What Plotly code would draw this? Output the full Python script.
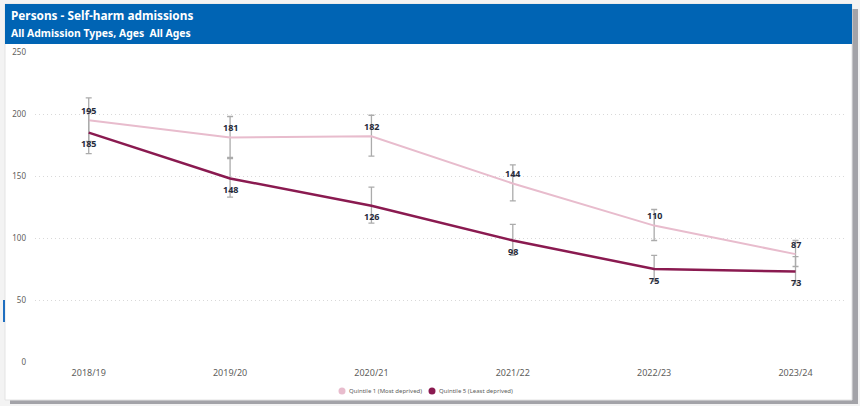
import plotly.graph_objects as go

years = ['2018/19', '2019/20', '2020/21', '2021/22', '2022/23', '2023/24']

q1_name = 'Quintile 1 (Most deprived)'
q1_values = [195, 181, 182, 144, 110, 87]
q1_upper = [213, 198, 199, 159, 123, 98]
q1_lower = [178, 164, 166, 130, 98, 77]

q5_name = 'Quintile 5 (Least deprived)'
q5_values = [185, 148, 126, 98, 75, 73]
q5_upper = [202, 165, 141, 111, 86, 85]
q5_lower = [168, 133, 112, 86, 65, 63]

y_ticks = [0, 50, 100, 150, 200, 250]

Q1_COLOUR = '#e8bccd'
Q5_COLOUR = '#8a1a50'
ERR_COLOUR = '#ababab'
LABEL_COLOUR = '#252a3a'
FONT = 'Noto Sans'

W, H = 860, 406
ML, MR, MT, MB = 35, 15, 52, 44


def px_x(p):
    return (p - ML) / (W - ML - MR)


def px_y(p):
    return (H - MB - p) / (H - MT - MB)


def err(vals, up, lo):
    return dict(type='data', symmetric=False,
                array=[u - v for u, v in zip(up, vals)],
                arrayminus=[v - l for v, l in zip(vals, lo)],
                color=ERR_COLOUR, thickness=1.3, width=3)


fig = go.Figure()
fig.add_trace(go.Scatter(
    x=years, y=q1_values, mode='lines', name=q1_name, showlegend=False,
    line=dict(color=Q1_COLOUR, width=2),
    error_y=err(q1_values, q1_upper, q1_lower),
))
fig.add_trace(go.Scatter(
    x=years, y=q5_values, mode='lines', name=q5_name, showlegend=False,
    line=dict(color=Q5_COLOUR, width=2.5),
    error_y=err(q5_values, q5_upper, q5_lower),
))

# data labels: Q1 above the point, Q5 below
annotations = []
for vals, shift in [(q1_values, 10), (q5_values, -11)]:
    for x, v in zip(years, vals):
        annotations.append(dict(x=x, y=v, text=f'<b>{v}</b>', showarrow=False,
                                yshift=shift, xanchor='center', yanchor='middle',
                                font=dict(family=FONT, size=9, color=LABEL_COLOUR)))

shapes = [
    # card shadow
    dict(type='rect', xref='paper', yref='paper', layer='below',
         x0=px_x(10), x1=px_x(858), y0=px_y(404), y1=px_y(9),
         fillcolor='#a3a3a8', line_width=0),
    # card
    dict(type='rect', xref='paper', yref='paper', layer='below',
         x0=px_x(5), x1=px_x(852), y0=px_y(400), y1=px_y(4),
         fillcolor='white', line=dict(color='#e3e3e3', width=1)),
    # header band
    dict(type='rect', xref='paper', yref='paper', layer='below',
         x0=px_x(5), x1=px_x(852), y0=px_y(44), y1=px_y(4),
         fillcolor='#0064b4', line_width=0),
    # little blue marker at left edge
    dict(type='line', xref='paper', yref='paper',
         x0=px_x(4), x1=px_x(4), y0=px_y(300), y1=px_y(322),
         line=dict(color='#1f6fc0', width=2)),
]

# compact legend at the bottom (dot + label)
for (name, colour), cx in zip([(q1_name, Q1_COLOUR), (q5_name, Q5_COLOUR)], [342, 432]):
    shapes.append(dict(type='circle', xref='paper', yref='paper',
                       x0=px_x(cx - 3.5), x1=px_x(cx + 3.5),
                       y0=px_y(391 + 3.5), y1=px_y(391 - 3.5),
                       fillcolor=colour, line_width=0))
    annotations.append(dict(text=name, xref='paper', yref='paper',
                            x=px_x(cx + 5), y=px_y(391), xanchor='left', yanchor='middle',
                            showarrow=False, font=dict(family=FONT, size=6, color='#605e5c')))

annotations += [
    dict(text='<b>Persons - Self-harm admissions</b>', xref='paper', yref='paper',
         x=px_x(9), y=px_y(15), xanchor='left', yanchor='middle', showarrow=False,
         font=dict(family=FONT, size=11.8, color='white')),
    dict(text='<b>All Admission Types, Ages  All Ages</b>', xref='paper', yref='paper',
         x=px_x(9), y=px_y(33), xanchor='left', yanchor='middle', showarrow=False,
         font=dict(family=FONT, size=10.4, color='white')),
]

fig.update_layout(
    width=W, height=H,
    margin=dict(l=ML, r=MR, t=MT, b=MB, autoexpand=False),
    paper_bgcolor='#f3f3f3', plot_bgcolor='white',
    font=dict(family=FONT, color='#605e5c'),
    shapes=shapes, annotations=annotations, showlegend=False,
    xaxis=dict(type='category', range=[-0.38, 5.35], showgrid=False, showline=False,
               zeroline=False, ticks='', tickfont=dict(size=9, color='#605e5c'),
               ticklabelstandoff=4),
    yaxis=dict(range=[0, 250], tickvals=y_ticks, showgrid=True, gridcolor='#d9d9d9',
               griddash='1px,3px', gridwidth=1, zeroline=False, showline=False, ticks='',
               tickfont=dict(size=8, color='#605e5c'), ticklabelstandoff=8),
)

# the page's default body margin would push the figure off by 8px
fig.write_html('out.html', config={'displayModeBar': False},
               post_script="document.body.style.margin='0';")
